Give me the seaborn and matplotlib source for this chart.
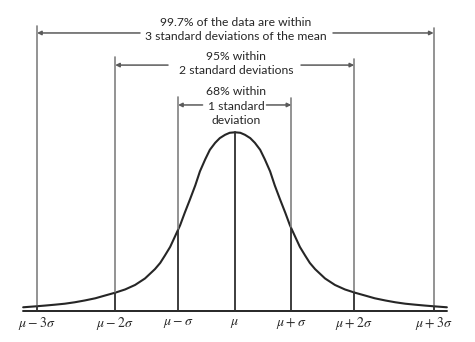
import numpy as np
import pandas as pd
import matplotlib
matplotlib.use("Agg")
import matplotlib.pyplot as plt
import seaborn as sns

# ---- data (x in units of sigma, y as density) ----
curve_x = [-3.20, -3.02, -2.87, -2.72, -2.57, -2.42, -2.27, -2.11, -1.96, -1.81,
           -1.66, -1.51, -1.36, -1.21, -1.13, -1.06, -0.98, -0.91, -0.83, -0.76,
           -0.68, -0.60, -0.53, -0.45, -0.38, -0.30, -0.23, -0.15, -0.08, 0.00,
           0.08, 0.15, 0.23, 0.30, 0.38, 0.45, 0.53, 0.60, 0.68, 0.76,
           0.83, 0.91, 0.98, 1.06, 1.13, 1.21, 1.36, 1.51, 1.66, 1.81,
           1.96, 2.11, 2.27, 2.42, 2.57, 2.72, 2.87, 3.02, 3.20]
curve_y = [0.0094, 0.0114, 0.0132, 0.0152, 0.0174, 0.0206, 0.0246, 0.0295, 0.0358, 0.0420,
           0.0492, 0.0592, 0.0737, 0.0945, 0.1084, 0.1247, 0.1441, 0.1665, 0.1922, 0.2201,
           0.2503, 0.2816, 0.3128, 0.3397, 0.3609, 0.3765, 0.3870, 0.3944, 0.3989, 0.4000,
           0.3989, 0.3944, 0.3870, 0.3765, 0.3609, 0.3397, 0.3128, 0.2816, 0.2503, 0.2201,
           0.1922, 0.1665, 0.1441, 0.1247, 0.1084, 0.0945, 0.0737, 0.0592, 0.0492, 0.0420,
           0.0358, 0.0295, 0.0246, 0.0206, 0.0174, 0.0152, 0.0132, 0.0114, 0.0094]

mark_labels = [r"$\mu - 3\sigma$", r"$\mu - 2\sigma$", r"$\mu - \sigma$", r"$\mu$",
               r"$\mu + \sigma$", r"$\mu + 2\sigma$", r"$\mu + 3\sigma$"]
mark_x = [-2.99, -1.81, -0.86, 0.0, 0.85, 1.80, 3.00]

band_pct = ["99.7%", "95%", "68%"]
band_lo = [-2.99, -1.81, -0.86]
band_hi = [3.00, 1.80, 0.85]
band_text = ["99.7% of the data are within\n3 standard deviations of the mean",
             "95% within\n2 standard deviations",
             "68% within\n1 standard\ndeviation"]

# ---- figure ----
sns.set_style("white")
plt.rcParams["font.family"] = ["Lato", "DejaVu Sans"]
plt.rcParams["mathtext.fontset"] = "stix"

fig = plt.figure(figsize=(4.75, 3.42), dpi=100)
ax = fig.add_axes([0, 0, 1, 1])
ax.set_xlim(-3.55, 3.625)
ax.set_ylim(-0.0681, 0.6953)
ax.axis("off")

df = pd.DataFrame({"x": curve_x, "y": curve_y})
sns.lineplot(data=df, x="x", y="y", ax=ax, color="#262626", lw=1.5, sort=False)

# baseline
ax.plot([curve_x[0], curve_x[-1]], [0, 0], color="#262626", lw=1.4)

# vertical lines
tops = {-2.99: 0.637, -1.81: 0.568, -0.86: 0.479, 0.85: 0.4766, 1.80: 0.564, 3.00: 0.633}
for xv in mark_x:
    ycur = np.interp(xv, curve_x, curve_y)
    if xv in tops:
        ax.plot([xv, xv], [ycur, tops[xv]], color="#808080", lw=1.2)
    ax.plot([xv, xv], [0, ycur], color="#2e2e2e", lw=1.3)

# labels under the axis
for xv, lab in zip(mark_x, mark_labels):
    ax.text(xv, -0.026, lab, ha="center", va="center", fontsize=10, color="#2a2a2a")

# arrows and texts
arrow_y = [0.6217, 0.550, 0.461]
gap_lo = [-1.435, -1.012, -0.49]
gap_hi = [1.48, 0.997, 0.475]
text_y = [0.6295, 0.5535, 0.4585]
for lo, hi, ay, gl, gh, txt, ty in zip(band_lo, band_hi, arrow_y, gap_lo, gap_hi, band_text, text_y):
    for start, end in ((gl, lo), (gh, hi)):
        ax.annotate("", xy=(end, ay), xytext=(start, ay),
                    arrowprops=dict(arrowstyle="-|>", color="#5a5a5a", lw=1.1,
                                    mutation_scale=6, shrinkA=0, shrinkB=0))
    ax.text(0.015, ty, txt, ha="center", va="center", fontsize=8.7,
            color="#262626", linespacing=1.35)

fig.savefig("out.png", dpi=100, facecolor="white")
